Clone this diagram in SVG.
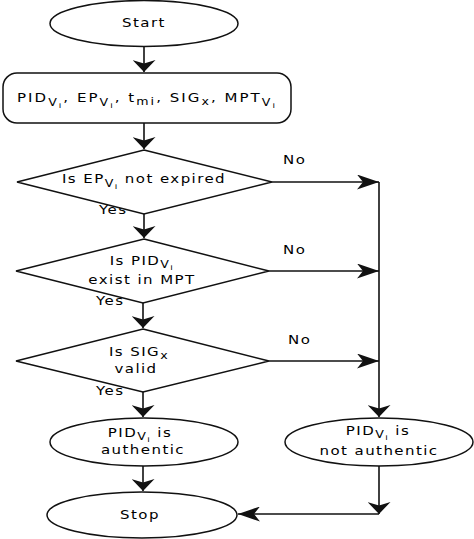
<svg xmlns="http://www.w3.org/2000/svg" width="474" height="539" viewBox="0 0 474 539">
<style>
.n{fill:#fff;stroke:#111;stroke-width:1.5}
.c{fill:none;stroke:#111;stroke-width:1.6}
text{font-family:"DejaVu Sans","Verdana",sans-serif;font-size:12.5px;letter-spacing:1.2px;fill:#000}
.m{text-anchor:middle}
.s{font-size:10.5px}
.ss{font-size:7.5px}
</style>
<defs>
<marker id="av" markerUnits="userSpaceOnUse" orient="auto" markerWidth="12" markerHeight="23" viewBox="0 -11.5 12 23" refX="12" refY="0">
<path d="M0,-11.5 L12,0 L0,11.5 L3.5,0 Z" fill="#111"/>
</marker>
<marker id="ah" markerUnits="userSpaceOnUse" orient="auto" markerWidth="22" markerHeight="15" viewBox="0 -7.5 22 15" refX="22" refY="0">
<path d="M0,-7.5 L22,0 L0,7.5 L6,0 Z" fill="#111"/>
</marker>
</defs>
<rect width="474" height="539" fill="#fff"/>
<g id="connectors">
<path class="c" d="M144,47 V72" marker-end="url(#av)"/>
<path class="c" d="M144,123 V149" marker-end="url(#av)"/>
<path class="c" d="M144,214 V238" marker-end="url(#av)"/>
<path class="c" d="M143,303 V328" marker-end="url(#av)"/>
<path class="c" d="M143,392 V417" marker-end="url(#av)"/>
<path class="c" d="M143,466 V491" marker-end="url(#av)"/>
<path class="c" d="M272,182 H379" marker-end="url(#ah)"/>
<path class="c" d="M269,271 H379" marker-end="url(#ah)"/>
<path class="c" d="M269,361 H379" marker-end="url(#ah)"/>
<path class="c" d="M379,182 V417" marker-end="url(#av)"/>
<path class="c" d="M379,466 V514" marker-end="url(#av)"/>
<path class="c" d="M379,514 H238" marker-end="url(#ah)"/>
<text transform="translate(283,164) scale(1.2,1)">No</text>
<text transform="translate(283,254) scale(1.2,1)">No</text>
<text transform="translate(288,344) scale(1.2,1)">No</text>
<text transform="translate(99,214) scale(1.2,1)">Yes</text>
<text transform="translate(96,305) scale(1.2,1)">Yes</text>
<text transform="translate(96,395) scale(1.2,1)">Yes</text>
</g>
<g id="start">
<ellipse class="n" cx="144" cy="23.5" rx="94" ry="23"/>
<text class="m" transform="translate(144,27) scale(1.2,1)">Start</text>
</g>
<g id="inputs">
<rect class="n" x="3" y="73" width="288" height="50" rx="14"/>
<text class="m" transform="translate(147,102) scale(1.2,1)" style="letter-spacing:1.7px">PID<tspan class="s" dy="3.5">V</tspan><tspan class="ss" dy="2">i</tspan><tspan dy="-5.5">, EP</tspan><tspan class="s" dy="3.5">V</tspan><tspan class="ss" dy="2">i</tspan><tspan dy="-5.5">, t</tspan><tspan class="s" dy="3">mi</tspan><tspan dy="-3">, SIG</tspan><tspan class="s" dy="3">x</tspan><tspan dy="-3">, MPT</tspan><tspan class="s" dy="3.5">V</tspan><tspan class="ss" dy="2">i</tspan></text>
</g>
<g id="check-ep">
<polygon class="n" points="144,150 272,182 144,214 17,182"/>
<text class="m" transform="translate(144,183) scale(1.2,1)">Is EP<tspan class="s" dy="3.5">V</tspan><tspan class="ss" dy="2">i</tspan><tspan dy="-5.5"> not expired</tspan></text>
</g>
<g id="check-pid">
<polygon class="n" points="144,239 269,271 143,303 16,271"/>
<text class="m" transform="translate(142,265) scale(1.2,1)">Is PID<tspan class="s" dy="3">V</tspan><tspan class="ss" dy="1.5">i</tspan></text>
<text class="m" transform="translate(142,284) scale(1.2,1)">exist in MPT</text>
</g>
<g id="check-sig">
<polygon class="n" points="143,329 269,361 143,392 16,361"/>
<text class="m" transform="translate(139,356) scale(1.2,1)">Is SIG<tspan class="s" dy="3">x</tspan></text>
<text class="m" transform="translate(136,373) scale(1.2,1)">valid</text>
</g>
<g id="authentic">
<ellipse class="n" cx="144" cy="442" rx="94" ry="24"/>
<text class="m" transform="translate(140,437) scale(1.2,1)">PID<tspan class="s" dy="3">V</tspan><tspan class="ss" dy="1.5">i</tspan><tspan dy="-4.5"> is</tspan></text>
<text class="m" transform="translate(143,454) scale(1.2,1)">authentic</text>
</g>
<g id="not-authentic">
<ellipse class="n" cx="379" cy="442" rx="94" ry="24"/>
<text class="m" transform="translate(378,435) scale(1.2,1)">PID<tspan class="s" dy="3">V</tspan><tspan class="ss" dy="1.5">i</tspan><tspan dy="-4.5"> is</tspan></text>
<text class="m" transform="translate(379,455) scale(1.2,1)">not authentic</text>
</g>
<g id="stop">
<ellipse class="n" cx="142" cy="515" rx="95" ry="23"/>
<text class="m" transform="translate(140,519) scale(1.2,1)">Stop</text>
</g>
</svg>
